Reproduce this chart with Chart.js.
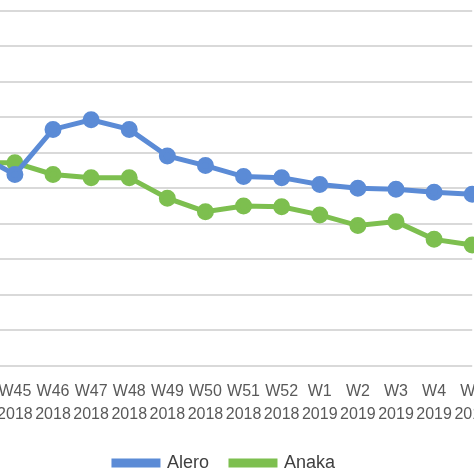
<!DOCTYPE html>
<html>
<head>
<meta charset="utf-8">
<script src="https://cdn.jsdelivr.net/npm/chart.js@4/dist/chart.umd.min.js"></script>
<style>
  html, body { margin: 0; padding: 0; background: #fff; overflow: hidden; }
  #wrap { position: relative; width: 474px; height: 474px; overflow: hidden; }
  #box { position: absolute; left: -47px; top: 0; width: 543px; height: 482px; }
</style>
</head>
<body>
<div id="wrap"><div id="box"><canvas id="chart"></canvas></div></div>
<script>
const weeks = ['W44', 'W45', 'W46', 'W47', 'W48', 'W49', 'W50', 'W51', 'W52', 'W1', 'W2', 'W3', 'W4', 'W5'];
const years = ['2018', '2018', '2018', '2018', '2018', '2018', '2018', '2018', '2018', '2019', '2019', '2019', '2019', '2019'];
const alero = [59.7, 53.9, 66.6, 69.3, 66.6, 59.1, 56.4, 53.3, 53.0, 51.1, 50.0, 49.7, 48.9, 48.3];
const anaka = [57.2, 57.2, 53.9, 53.0, 53.0, 47.2, 43.4, 45.0, 44.8, 42.5, 39.5, 40.6, 35.6, 34.0];

const labels = weeks.map((w, i) => [w, years[i]]);

function series(label, data, color) {
    return {
        label,
        data,
        borderColor: color,
        backgroundColor: color,
        borderWidth: 5,
        pointRadius: 6,
        pointHoverRadius: 6,
        tension: 0
    };
}

new Chart(document.getElementById('chart'), {
    type: 'line',
    data: {
        labels,
        datasets: [
            series('Alero', alero, '#5b8bd6'),
            series('Anaka', anaka, '#7dbf4f')
        ]
    },
    options: {
        responsive: true,
        maintainAspectRatio: false,
        animation: false,
        layout: { padding: { top: 4, left: 0, right: 0, bottom: 0 } },
        plugins: {
            legend: {
                display: true,
                position: 'bottom',
                labels: {
                    color: '#404040',
                    font: { family: 'Liberation Sans', size: 18 },
                    boxWidth: 44,
                    boxHeight: 4,
                    padding: 22
                }
            },
            tooltip: { enabled: false }
        },
        scales: {
            x: {
                offset: false,
                grid: { display: false },
                border: { display: false },
                ticks: {
                    color: '#595959',
                    font: { family: 'Liberation Sans', size: 16, lineHeight: 1.45 },
                    maxRotation: 0,
                    autoSkip: false,
                    padding: 6
                }
            },
            y: {
                min: 0,
                max: 100,
                ticks: { display: false, stepSize: 10 },
                grid: { color: '#d9d9d9', lineWidth: 2, drawTicks: false },
                border: { display: false }
            }
        }
    }
});
</script>
</body>
</html>
